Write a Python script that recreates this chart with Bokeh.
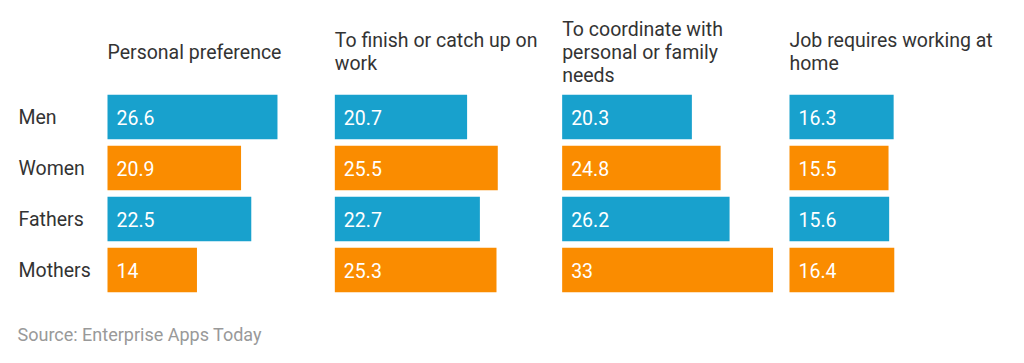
from bokeh.plotting import figure
from bokeh.models import ColumnDataSource, Range1d, Label
from bokeh.core.properties import value
from bokeh.embed import file_html
from bokeh.resources import INLINE

groups = ["Men", "Women", "Fathers", "Mothers"]
panels = ["Personal preference", "To finish or catch up on\nwork",
          "To coordinate with\npersonal or family\nneeds", "Job requires working at\nhome"]
personal_preference = [26.6, 20.9, 22.5, 14]
finish_work = [20.7, 25.5, 22.7, 25.3]
family_needs = [20.3, 24.8, 26.2, 33]
job_requires = [16.3, 15.5, 15.6, 16.4]
series = [personal_preference, finish_work, family_needs, job_requires]
source_note = "Source: Enterprise Apps Today"

BLUE = "#18a1cd"
ORANGE = "#fa8c00"
FONT = "Roboto"

W, H = 1008, 347
PX_PER_UNIT = 6.39
ROW_PX = 51.0
X0_PX = 107.0
Y0_PX = 116.5
PANEL_STEP = 227.33 / PX_PER_UNIT

p = figure(width=W, height=H, output_backend="svg", toolbar_location=None,
           x_range=Range1d(-X0_PX / PX_PER_UNIT, (W - X0_PX) / PX_PER_UNIT),
           y_range=Range1d((H - Y0_PX) / ROW_PX, -Y0_PX / ROW_PX),
           min_border=0, outline_line_color=None)
p.xaxis.visible = False
p.yaxis.visible = False
p.grid.visible = False
p.background_fill_color = "white"

ys, rights, colors, labels, lefts = [], [], [], [], []
for i, vals in enumerate(series):
    off = i * PANEL_STEP
    for j, v in enumerate(vals):
        lefts.append(off)
        rights.append(off + v)
        ys.append(j)
        colors.append(BLUE if j % 2 == 0 else ORANGE)
        labels.append(f"{v:g}")

bars = ColumnDataSource(dict(left=lefts, right=rights, y=ys, color=colors, label=labels))
p.hbar(y="y", left="left", right="right", height=44.5 / ROW_PX, color="color",
       line_color=None, source=bars)
p.text(x="left", y="y", text="label", source=bars, x_offset=9,
       text_font=value(FONT), text_font_size="19.5px", text_color="white",
       text_baseline="middle", text_align="left")

titles = ColumnDataSource(dict(x=[i * PANEL_STEP for i in range(len(panels))],
                               y=[-65.0 / ROW_PX] * len(panels), t=panels))
p.text(x="x", y="y", text="t", source=titles, text_font=value(FONT),
       text_font_size="19.5px", text_color="#333333", text_baseline="middle",
       text_align="left", text_line_height=1.0)

rows = ColumnDataSource(dict(x=[0] * len(groups), y=list(range(len(groups))), t=groups))
p.text(x="x", y="y", text="t", source=rows, x_offset=-89, text_font=value(FONT),
       text_font_size="19.5px", text_color="#333333", text_baseline="middle",
       text_align="left")

p.add_layout(Label(x=17, y=H - 334, x_units="screen", y_units="screen", text=source_note,
                   text_font=FONT, text_font_size="18px", text_color="#999999",
                   text_baseline="middle"))

open("out.html", "w").write(file_html(p, INLINE))
